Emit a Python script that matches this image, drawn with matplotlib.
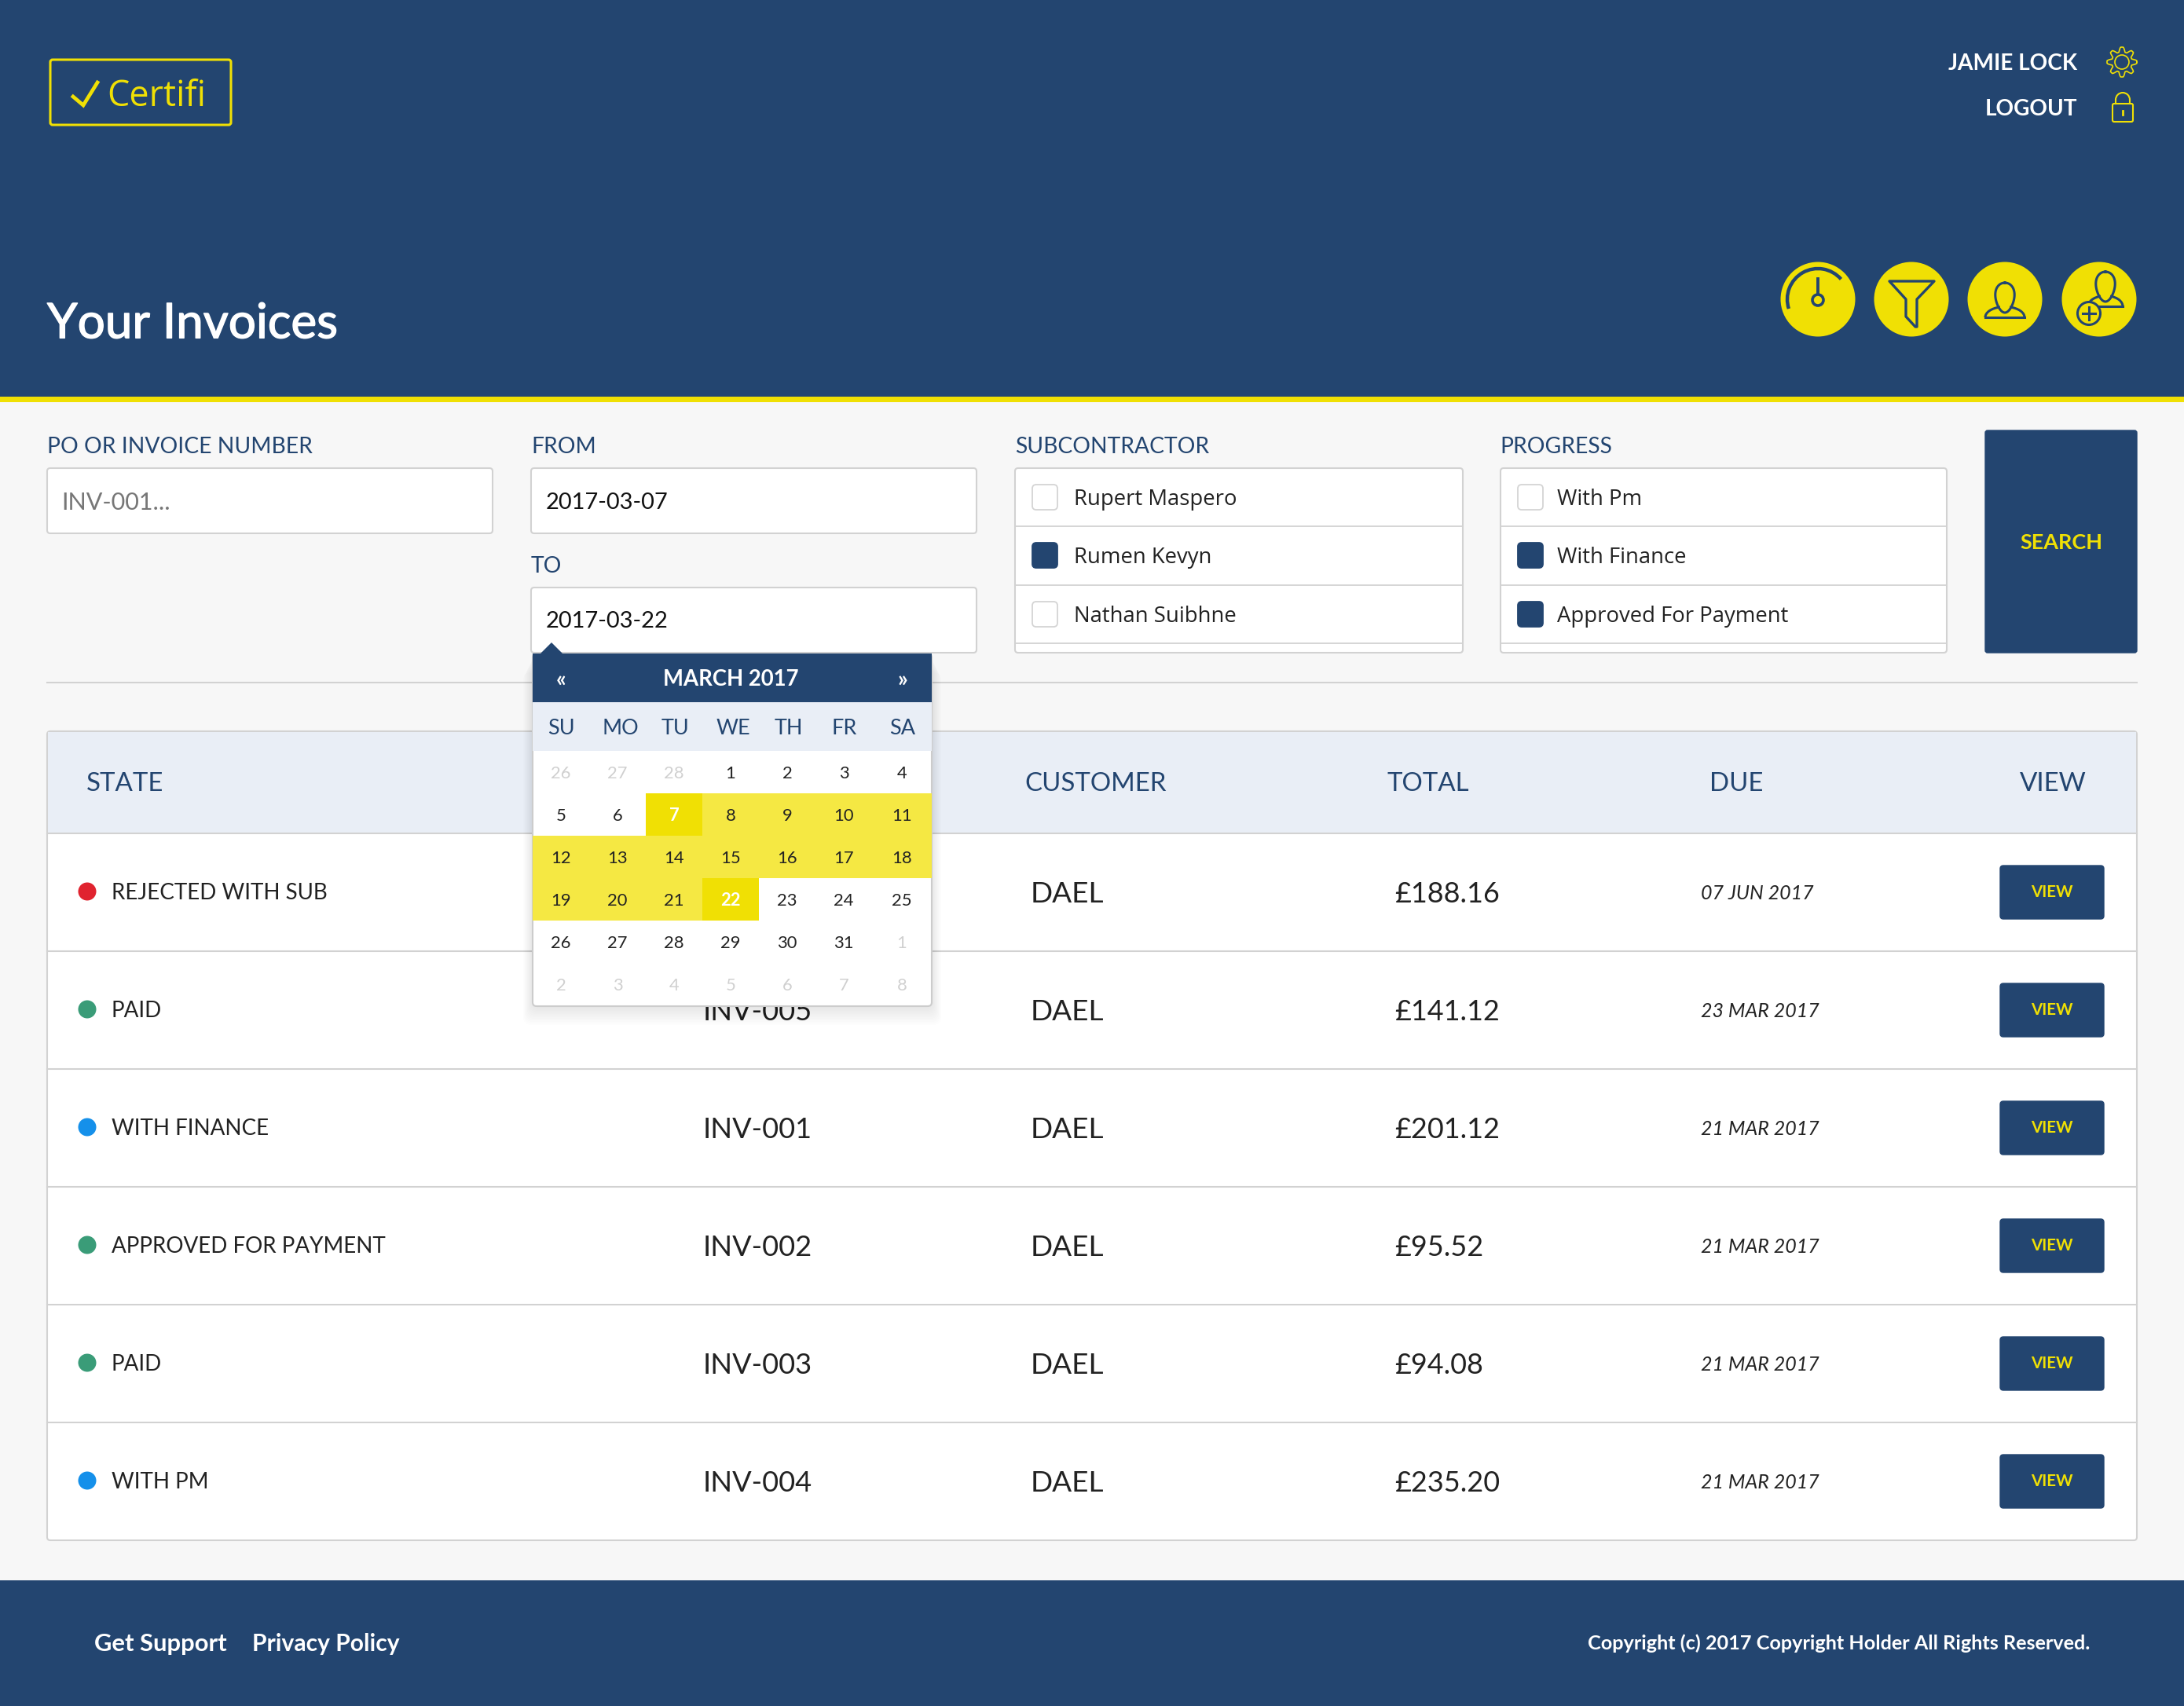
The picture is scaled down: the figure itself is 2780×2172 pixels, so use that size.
import numpy as np
import matplotlib
matplotlib.use("Agg")
import matplotlib.pyplot as plt
import matplotlib.patheffects as pe
from matplotlib.patches import Rectangle, FancyBboxPatch, Circle, Polygon, Arc

NAVY = "#234570"
YELLOW = "#f0e004"
LIGHT_Y = "#f5e843"
HEAD_BG = "#e9eef6"
PAGE_BG = "#f7f7f7"
LINE = "#d2d2d2"
INK = "#222222"
MUTED = "#d0d0d0"

# table data
states = ["REJECTED WITH SUB", "PAID", "WITH FINANCE", "APPROVED FOR PAYMENT", "PAID", "WITH PM"]
state_colors = ["#e0232f", "#3a9c78", "#1590ea", "#3a9c78", "#3a9c78", "#1590ea"]
invoices = ["", "INV-005", "INV-001", "INV-002", "INV-003", "INV-004"]
customers = ["DAEL"] * 6
totals = ["£188.16", "£141.12", "£201.12", "£95.52", "£94.08", "£235.20"]
dues = ["07 JUN 2017", "23 MAR 2017", "21 MAR 2017", "21 MAR 2017", "21 MAR 2017", "21 MAR 2017"]

# table header
columns = ["STATE", "CUSTOMER", "TOTAL", "DUE", "VIEW"]
column_x = [110, 1304, 1766, 2176, 2571]

# form
subcontractors = ["Rupert Maspero", "Rumen Kevyn", "Nathan Suibhne"]
sub_checked = [False, True, False]
progress = ["With Pm", "With Finance", "Approved For Payment"]
progress_checked = [False, True, True]

# calendar
weekdays = ["SU", "MO", "TU", "WE", "TH", "FR", "SA"]
cal_days = [26, 27, 28, 1, 2, 3, 4,
            5, 6, 7, 8, 9, 10, 11,
            12, 13, 14, 15, 16, 17, 18,
            19, 20, 21, 22, 23, 24, 25,
            26, 27, 28, 29, 30, 31, 1,
            2, 3, 4, 5, 6, 7, 8]
first_day = 3
last_day = 33
range_start = 9
range_end = 24

plt.rcParams["font.family"] = ["Lato", "DejaVu Sans"]

fig = plt.figure(figsize=(27.8, 21.72), dpi=100, facecolor=PAGE_BG)
ax = fig.add_axes([0, 0, 1, 1])
ax.set_xlim(0, 2780)
ax.set_ylim(2172, 0)
ax.axis("off")


def T(x, y, s, px, color=INK, ha="left", weight="normal", style="normal", z=5, family=None):
    # y is the middle of the capitals, px is the css size
    t = ax.text(x, y + 0.36 * px, s, fontsize=px * 0.72, color=color, ha=ha, va="baseline",
                fontweight=weight, fontstyle=style, zorder=z)
    if family:
        t.set_family(family)
    return t


def box(x0, y0, x1, y1, fc="white", ec=LINE, lw=1.5, r=4, z=2):
    p = FancyBboxPatch((x0, y0), x1 - x0, y1 - y0, boxstyle="round,pad=0,rounding_size=%d" % r,
                       fc=fc, ec=ec, lw=lw, zorder=z)
    ax.add_patch(p)
    return p


def rect(x0, y0, x1, y1, fc, z=1):
    ax.add_patch(Rectangle((x0, y0), x1 - x0, y1 - y0, fc=fc, ec="none", zorder=z))


# header
rect(0, 0, 2780, 505, NAVY)
rect(0, 505, 2780, 512, YELLOW)
box(64, 76, 294, 159, fc="none", ec=YELLOW, lw=2.2, r=3)
ax.plot([93, 106, 124], [123, 134, 105], color=YELLOW, lw=3.4, solid_joinstyle="miter", zorder=5)
T(136, 119, "Certifi", 45, color=YELLOW, family="Open Sans")
title = T(60, 408, "Your Invoices", 62, color="white")
title.set_path_effects([pe.withStroke(linewidth=1.0, foreground="white")])
T(2644, 79, "JAMIE LOCK", 28, color="white", ha="right", weight="bold")
T(2644, 137, "LOGOUT", 28, color="white", ha="right", weight="bold")

# gear
ang = np.linspace(0, 2 * np.pi, 400)
rad = 16 + 3 * np.clip(1.3 * np.cos(8 * ang), -1, 1)
ax.plot(2701 + rad * np.cos(ang), 79 + rad * np.sin(ang), color=YELLOW, lw=1.2, zorder=5)
ax.add_patch(Circle((2701, 79), 9, fc="none", ec=YELLOW, lw=1.2, zorder=5))
# lock
box(2689, 132, 2715, 155, fc="none", ec=YELLOW, lw=1.5, r=2, z=5)
ax.plot([2693, 2693], [132, 127], color=YELLOW, lw=1.5, zorder=5)
ax.plot([2711, 2711], [132, 127], color=YELLOW, lw=1.5, zorder=5)
ax.add_patch(Arc((2702, 127), 18, 18, theta1=180, theta2=360, ec=YELLOW, lw=1.5, zorder=5))
ax.plot([2702, 2702], [141, 146], color=YELLOW, lw=2, zorder=5)

# round buttons
circle_x = [2314, 2433, 2552, 2672]
for cx in circle_x:
    ax.add_patch(Circle((cx, 381), 47.5, fc=YELLOW, ec="none", zorder=3))

# gauge
ax.add_patch(Arc((2314, 381), 78, 78, theta1=162, theta2=319, ec=NAVY, lw=3.2, zorder=5))
ax.plot([2314, 2314], [355, 378], color=NAVY, lw=2.8, zorder=5)
ax.add_patch(Circle((2314, 382), 7, fc=YELLOW, ec=NAVY, lw=2.6, zorder=6))
# funnel
ax.add_patch(Polygon([[2405, 358], [2462, 358], [2440, 381], [2440, 416], [2438, 416], [2426, 403], [2426, 381]],
                     closed=True, fc="none", ec=NAVY, lw=2.4, joinstyle="round", zorder=5))


def person(cx, top, half=25):
    t = np.linspace(0, 2 * np.pi, 80)
    hx = cx + 14.5 * np.sin(t) * (1 - 0.35 * (1 - np.cos(t)) / 2)
    hy = top + 19 - 19 * np.cos(t)
    ax.plot(hx, hy, color=NAVY, lw=2.2, zorder=5)
    base = top + 44
    ax.plot([cx - half, cx + half], [base, base], color=NAVY, lw=2.2, zorder=5)
    ax.add_patch(Arc((cx, base), 2 * half, 27, theta1=180, theta2=245, ec=NAVY, lw=2.2, zorder=5))
    ax.add_patch(Arc((cx, base), 2 * half, 27, theta1=295, theta2=360, ec=NAVY, lw=2.2, zorder=5))


person(2552, 360)
person(2680, 346, half=22)
ax.add_patch(Circle((2659, 399), 14.5, fc=YELLOW, ec=NAVY, lw=2.2, zorder=6))
ax.plot([2651, 2667], [399, 399], color=NAVY, lw=2.2, zorder=7)
ax.plot([2659, 2659], [391, 407], color=NAVY, lw=2.2, zorder=7)

# form labels
form_labels = ["PO OR INVOICE NUMBER", "FROM", "SUBCONTRACTOR", "PROGRESS"]
form_x = [60, 676, 1292, 1909]
for lab, lx in zip(form_labels, form_x):
    T(lx, 567, lab, 28.2, color=NAVY)
T(676, 719, "TO", 28.2, color=NAVY)

box(60, 596, 627, 679)
box(676, 596, 1243, 679)
box(676, 748, 1243, 831)
T(78, 638, "INV-001...", 30.5, color="#777777")
T(695, 638, "2017-03-07", 29, color="#111111")
T(695, 789, "2017-03-22", 29, color="#111111")


def check_list(x0, x1, names, checked, box_x, text_x):
    box(x0, 596, x1, 831)
    for yline in [670, 745, 819]:
        ax.plot([x0, x1], [yline, yline], color=LINE, lw=1.3, zorder=3)
    for name, on, cy in zip(names, checked, [633, 707, 782]):
        box(box_x - 16, cy - 16, box_x + 16, cy + 16, fc=NAVY if on else "white",
            ec=NAVY if on else "#d4d4d4", lw=1.3, r=5, z=4)
        T(text_x, cy, name, 27.5, color=INK, family="Open Sans")


check_list(1292, 1862, subcontractors, sub_checked, 1330, 1367)
check_list(1910, 2478, progress, progress_checked, 1948, 1982)

box(2527, 548, 2720, 831, fc=NAVY, ec=NAVY, lw=1, r=3)
T(2624, 689, "SEARCH", 27, color=YELLOW, ha="center", weight="bold")
ax.plot([60, 2720], [869, 869], color=LINE, lw=1.5, zorder=1)

# table
box(60, 931, 2720, 1961, fc="white", ec=LINE, lw=1.5, r=4, z=1)
rect(61, 932, 2719, 1061, HEAD_BG, z=1.5)
ax.plot([60, 2720], [1061, 1061], color=LINE, lw=1.5, zorder=2)
for name, cx in zip(columns, column_x):
    T(cx, 995, name, 33, color=NAVY)

row_top = 1061
row_h = 150
for i in range(len(states)):
    cy = row_top + row_h * i + 75
    if i < len(states) - 1:
        ax.plot([60, 2720], [row_top + row_h * (i + 1)] * 2, color=LINE, lw=1.5, zorder=2)
    ax.add_patch(Circle((111, cy - 1), 11.5, fc=state_colors[i], ec="none", zorder=3))
    T(142, cy - 1, states[i], 27.8, color=INK)
    T(895, cy, invoices[i], 36.3, color=INK)
    T(1312, cy, customers[i], 37, color=INK)
    T(1775, cy, totals[i], 36, color=INK)
    T(2165, cy, dues[i], 25, color=INK, style="italic")
    box(2546, cy - 34, 2678, cy + 34, fc=NAVY, ec=NAVY, lw=1, r=4, z=3)
    T(2612, cy - 1, "VIEW", 20.5, color=YELLOW, ha="center", weight="bold")

# footer
rect(0, 2012, 2780, 2172, NAVY)
T(120, 2091, "Get Support", 31, color="white", weight="bold")
T(321, 2091, "Privacy Policy", 30, color="white", weight="bold")
T(2660, 2091, "Copyright (c) 2017 Copyright Holder All Rights Reserved.", 25.3, color="white", ha="right", weight="bold")

# calendar popup, drawn over the first table row
cal_l, cal_r, cal_t = 678, 1186, 832
cell_w = 72
for k in range(12, 0, -1):
    ax.add_patch(FancyBboxPatch((cal_l - k, cal_t + 2 * k), cal_r - cal_l + 2 * k, 449, boxstyle="round,pad=0,rounding_size=10",
                                fc="black", ec="none", alpha=0.007, zorder=7))
box(cal_l, cal_t, cal_r, 1281, fc="white", ec="#cccccc", lw=1.5, r=5, z=8)
rect(cal_l, cal_t, cal_r, 894, NAVY, z=9)
rect(cal_l, 894, cal_r, 956, HEAD_BG, z=9)
ax.add_patch(Polygon([[688, 832], [702, 818], [716, 832]], closed=True, fc=NAVY, ec="none", zorder=9))
T(930, 863, "MARCH 2017", 27.5, color="white", ha="center", weight="bold", z=10)
T(714, 864, "«", 28, color="white", ha="center", weight="bold", z=10)
T(1149, 864, "»", 28, color="white", ha="center", weight="bold", z=10)
weekday_x = [714, 790, 859, 933, 1004, 1075, 1149]
for wx, wd in zip(weekday_x, weekdays):
    T(wx, 925, wd, 27, color=NAVY, ha="center", z=10)
for n, day in enumerate(cal_days):
    r, c = divmod(n, 7)
    x0 = cal_l + cell_w * c
    x1 = cal_r if c == 6 else x0 + cell_w
    y0 = 956 + 54 * r
    if n == range_start or n == range_end:
        rect(x0, y0, x1, y0 + 54, YELLOW, z=9)
        col = "white"
    elif range_start < n < range_end:
        rect(x0, y0, x1, y0 + 54, LIGHT_Y, z=9)
        col = INK
    else:
        col = INK if first_day <= n <= last_day else MUTED
    T((x0 + x1) / 2, y0 + 27, str(day), 22, color=col, ha="center",
      weight="bold" if n in (range_start, range_end) else "normal", z=10)

fig.savefig("out.png", dpi=100, facecolor=PAGE_BG)
